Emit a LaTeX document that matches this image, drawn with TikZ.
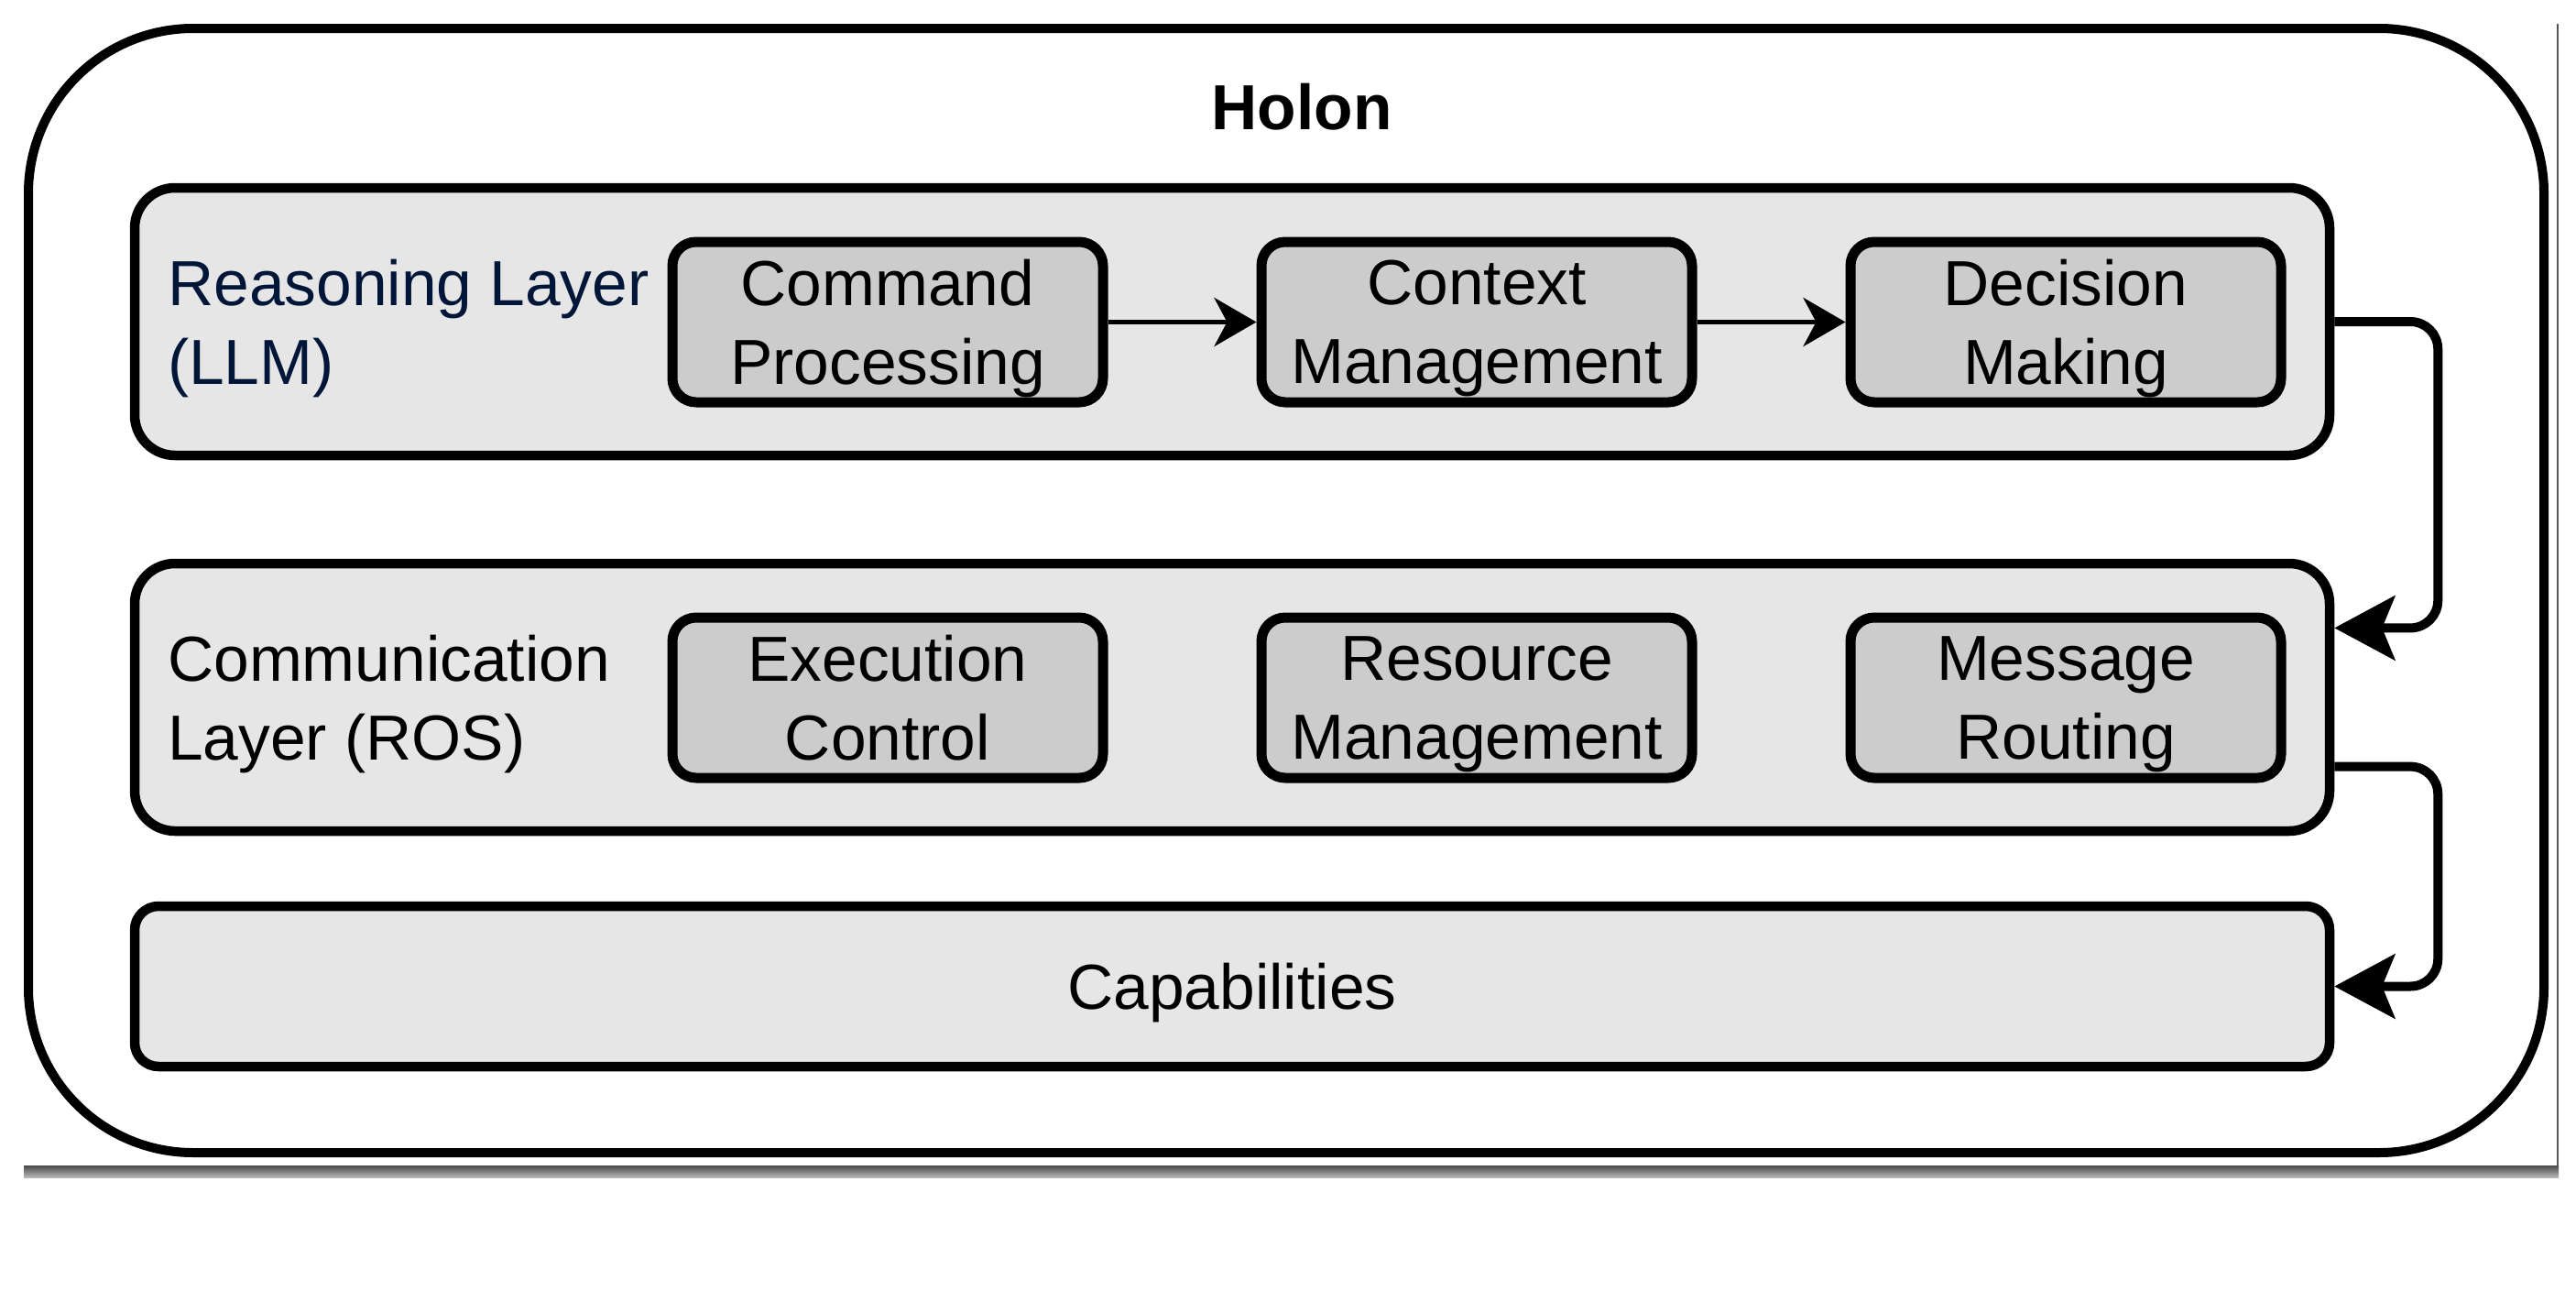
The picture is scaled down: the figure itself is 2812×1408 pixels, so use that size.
\documentclass[tikz,border=0pt]{standalone}
\usepackage{fontspec}
\setmainfont{Liberation Sans}
\usetikzlibrary{arrows.meta,calc}
\definecolor{layerfill}{HTML}{E6E6E6}
\definecolor{boxfill}{HTML}{CCCCCC}
\definecolor{navytext}{HTML}{001638}
\definecolor{pageline}{HTML}{555555}
\definecolor{shadetop}{HTML}{4A4A4A}
\definecolor{shadebot}{HTML}{B8B8B8}
\newcommand\diagfont{\fontsize{69.5pt}{86pt}\selectfont}
\begin{document}
\begin{tikzpicture}[x=1pt,y=-1pt,
  every node/.style={inner sep=0pt},
  holonbox/.style={draw, line width=10pt, rounded corners=180pt,
    minimum width=2746pt, minimum height=1227pt},
  layerbox/.style={draw, line width=10.5pt, fill=layerfill, rounded corners=44pt,
    minimum width=2396pt, minimum height=292pt},
  capbox/.style={draw, line width=10.5pt, fill=layerfill, rounded corners=26pt,
    minimum width=2396pt, minimum height=175pt, font=\diagfont, text depth=0pt},
  compbox/.style={draw, line width=11pt, fill=boxfill, rounded corners=26pt,
    minimum width=470pt, minimum height=175pt, align=center, font=\diagfont,
    text depth=0pt},
  lbl/.style={align=left, anchor=west, font=\diagfont, text depth=0pt},
  flow/.style={line width=5.5pt, -{Stealth[length=46pt, width=53pt, inset=14pt]}},
  link/.style={line width=10pt, rounded corners=30pt,
    -{Stealth[length=66pt, width=70pt, inset=14pt]}}
]
\useasboundingbox (0,0) rectangle (2812,1408);
\fill[white] (0,0) rectangle (2812,1408);
% page edge and shadow
\shade[top color=shadetop, bottom color=shadebot] (26,1272) rectangle (2793,1285);
\draw[pageline, line width=2pt] (2792,26) -- (2792,1272);
% outer holon
\node[holonbox] (holon) at (1404,644.5) {};
\node[font=\fontsize{69.5pt}{86pt}\selectfont\bfseries, anchor=base] (title) at (1421,141) {Holon};
% layers
\node[layerbox] (reasoning) at (1345,351) {};
\node[layerbox] (comm) at (1345,761) {};
\node[capbox] (cap) at (1345,1076.5) {Capabilities};
% layer labels
\node[lbl, text=navytext] (rlabel) at (183,351) {Reasoning Layer\\(LLM)};
\node[lbl] (clabel) at (183,761) {Communication\\Layer (ROS)};
% components
\node[compbox] (cmd) at (969,351.5) {Command\\Processing};
\node[compbox] (ctx) at (1612,351.5) {Context\\Management};
\node[compbox] (dec) at (2255,351.5) {Decision\\Making};
\node[compbox] (exe) at (969,761.5) {Execution\\Control};
\node[compbox] (res) at (1612,761.5) {Resource\\Management};
\node[compbox] (msg) at (2255,761.5) {Message\\Routing};
% connectors
\draw[flow] (cmd) -- (ctx);
\draw[flow] (ctx) -- (dec);
\coordinate (cin) at ($(comm.north east)!0.25!(comm.south east)$);
\coordinate (cout) at ($(comm.north east)!0.75!(comm.south east)$);
\draw[link] (reasoning.east) -| ($(cin)+(113,0)$) -- (cin);
\draw[link] (cout) -| ($(cap.east)+(113,0)$) -- (cap.east);
\end{tikzpicture}
\end{document}
